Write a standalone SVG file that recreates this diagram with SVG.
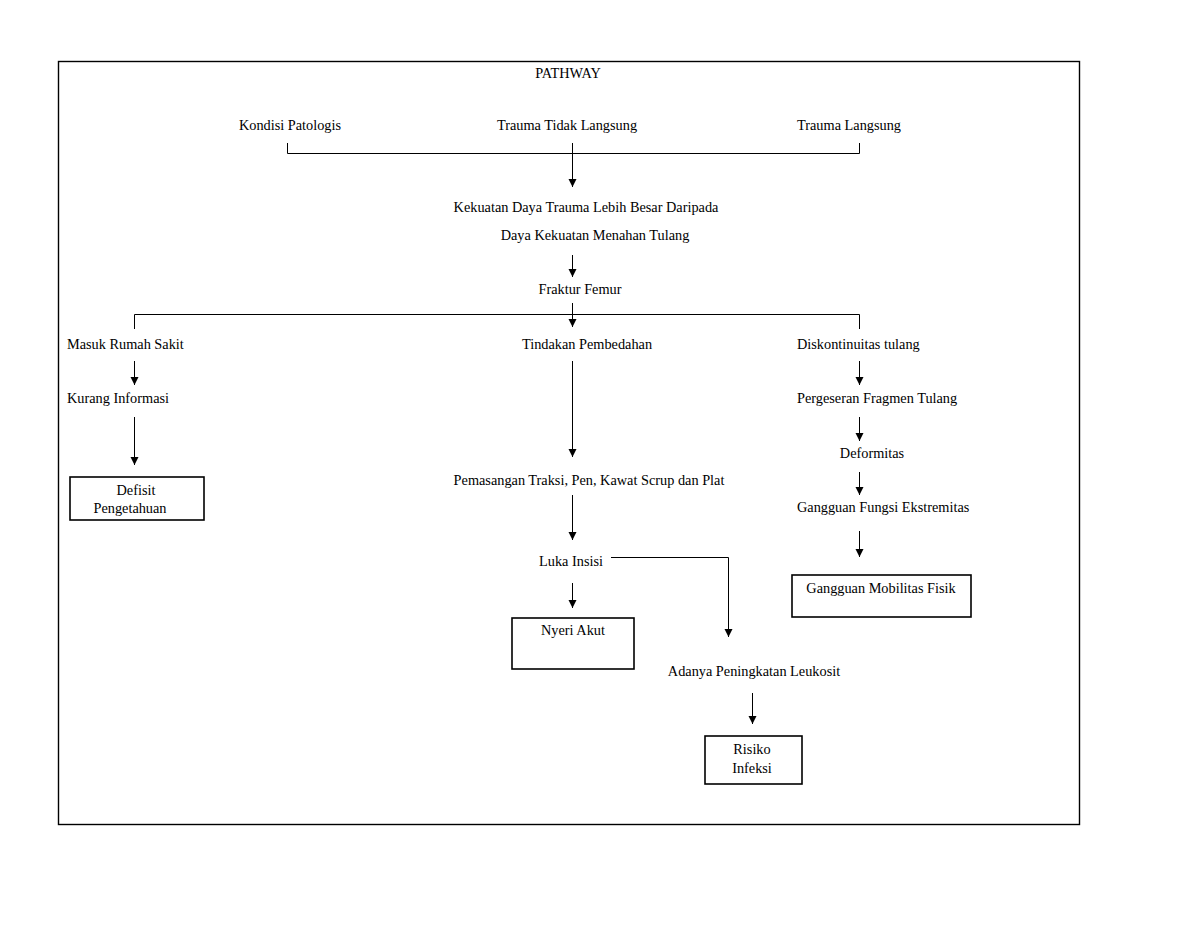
<svg xmlns="http://www.w3.org/2000/svg" width="1200" height="927" viewBox="0 0 1200 927">
<style>
text{font-family:"Liberation Serif","Times New Roman",serif;font-size:14.3px;fill:#000}
.c{text-anchor:middle}
.ln{stroke:#000;stroke-width:1;fill:none}
.bx{stroke:#000;stroke-width:1.6;fill:#fff}
</style>
<defs>
<marker id="ah" markerUnits="userSpaceOnUse" markerWidth="10" markerHeight="10" refX="8" refY="4" orient="auto">
<path d="M0,0 L8,4 L0,8 Z" fill="#000"/>
</marker>
</defs>
<rect x="0" y="0" width="1200" height="927" fill="#fff"/>
<rect x="58.5" y="61.5" width="1021" height="763" fill="none" stroke="#000" stroke-width="1.4"/>
<text class="c" x="568" y="78">PATHWAY</text>

<g id="connectors" class="ln">
<path d="M287.5,143 V153.5 H859.5 V143"/>
<path d="M572.5,143 V187" marker-end="url(#ah)"/>
<path d="M572.5,255 V277" marker-end="url(#ah)"/>
<path d="M134.5,329 V314.5 H859.5 V329"/>
<path d="M572.5,303 V327" marker-end="url(#ah)"/>
<path d="M134.5,361 V385" marker-end="url(#ah)"/>
<path d="M134.5,417 V465" marker-end="url(#ah)"/>
<path d="M572.5,361 V457" marker-end="url(#ah)"/>
<path d="M572.5,495 V540" marker-end="url(#ah)"/>
<path d="M572.5,583 V608" marker-end="url(#ah)"/>
<path d="M611,557.5 H728.5 V637" marker-end="url(#ah)"/>
<path d="M752.5,693 V724" marker-end="url(#ah)"/>
<path d="M859.5,361 V385" marker-end="url(#ah)"/>
<path d="M859.5,417 V441" marker-end="url(#ah)"/>
<path d="M859.5,472 V495" marker-end="url(#ah)"/>
<path d="M859.5,531 V557" marker-end="url(#ah)"/>
</g>

<g id="n-kondisi"><text class="c" x="290" y="130">Kondisi Patologis</text></g>
<g id="n-ttl"><text class="c" x="567" y="130">Trauma Tidak Langsung</text></g>
<g id="n-tl"><text class="c" x="849" y="130">Trauma Langsung</text></g>
<g id="n-kekuatan"><text class="c" x="586" y="212">Kekuatan Daya Trauma Lebih Besar Daripada</text><text class="c" x="595" y="240">Daya Kekuatan Menahan Tulang</text></g>
<g id="n-fraktur"><text class="c" x="580" y="294">Fraktur Femur</text></g>
<g id="n-masuk"><text x="67" y="349">Masuk Rumah Sakit</text></g>
<g id="n-kurang"><text x="67" y="403">Kurang Informasi</text></g>
<g id="n-defisit"><rect class="bx" x="70" y="477" width="134" height="43"/><text class="c" x="136" y="495">Defisit</text><text class="c" x="130" y="513">Pengetahuan</text></g>
<g id="n-tindakan"><text class="c" x="587" y="349">Tindakan Pembedahan</text></g>
<g id="n-pemasangan"><text class="c" x="589" y="485">Pemasangan Traksi, Pen, Kawat Scrup dan Plat</text></g>
<g id="n-luka"><text class="c" x="571" y="566">Luka Insisi</text></g>
<g id="n-nyeri"><rect class="bx" x="512" y="618" width="122" height="51"/><text class="c" x="573" y="635">Nyeri Akut</text></g>
<g id="n-adanya"><text class="c" x="754" y="676">Adanya Peningkatan Leukosit</text></g>
<g id="n-risiko"><rect class="bx" x="705" y="736" width="97" height="48"/><text class="c" x="752" y="754">Risiko</text><text class="c" x="752" y="773">Infeksi</text></g>
<g id="n-disk"><text x="797" y="349">Diskontinuitas tulang</text></g>
<g id="n-perg"><text x="797" y="403">Pergeseran Fragmen Tulang</text></g>
<g id="n-deform"><text class="c" x="872" y="458">Deformitas</text></g>
<g id="n-gfe"><text x="797" y="512">Gangguan Fungsi Ekstremitas</text></g>
<g id="n-gmf"><rect class="bx" x="792" y="575" width="179" height="42"/><text class="c" x="881" y="593">Gangguan Mobilitas Fisik</text></g>
</svg>
